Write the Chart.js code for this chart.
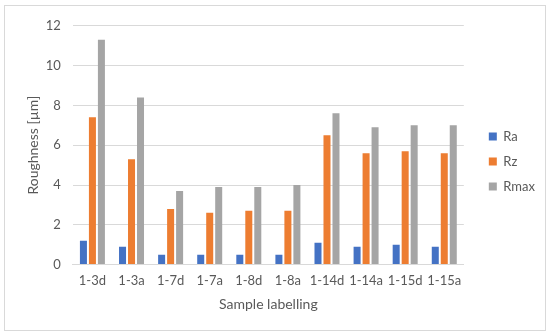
<!DOCTYPE html>
<html>
<head>
<meta charset="utf-8">
<script src="https://cdn.jsdelivr.net/npm/chart.js@4/dist/chart.umd.min.js"></script>
<style>
    body { margin: 0; background: #fff; }
    #box { position: absolute; left: 4px; top: 5px; width: 540px; height: 324px; border: 1px solid #d9d9d9; }
</style>
</head>
<body>
<div id="box"><canvas id="roughChart"></canvas></div>
<script>
let samples = ['1-3d', '1-3a', '1-7d', '1-7a', '1-8d', '1-8a', '1-14d', '1-14a', '1-15d', '1-15a'];
let ra = [1.2, 0.9, 0.5, 0.5, 0.5, 0.5, 1.1, 0.9, 1.0, 0.9];
let rz = [7.4, 5.3, 2.8, 2.6, 2.7, 2.7, 6.5, 5.6, 5.7, 5.6];
let rmax = [11.3, 8.4, 3.7, 3.9, 3.9, 4.0, 7.6, 6.9, 7.0, 7.0];

Chart.defaults.font.family = "Lato, 'Open Sans', sans-serif";
Chart.defaults.color = '#595959';

// push the legend a bit further away from the plot, like the original
const legendShift = {
    id: 'legendShift',
    afterLayout(chart) {
        chart.legend.left += 13;
        chart.legend.right += 13;
    }
};

function makeSet(label, data, color) {
    return {
        label: label,
        data: data,
        backgroundColor: color,
        borderWidth: 0,
        barPercentage: 0.78,
        categoryPercentage: 0.69
    };
}

let ctx = document.getElementById('roughChart').getContext('2d');
let chart = new Chart(ctx, {
    type: 'bar',
    data: {
        labels: samples,
        datasets: [
            makeSet('Ra', ra, '#4472c4'),
            makeSet('Rz', rz, '#ed7d31'),
            makeSet('Rmax', rmax, '#a5a5a5')
        ]
    },
    options: {
        responsive: true,
        maintainAspectRatio: false,
        animation: false,
        layout: { padding: { top: 4, right: 13, bottom: 17, left: 20 } },
        plugins: {
            legend: {
                position: 'right',
                labels: {
                    boxWidth: 8,
                    boxHeight: 8,
                    padding: 12,
                    font: { size: 13 }
                }
            },
            tooltip: { enabled: false }
        },
        scales: {
            x: {
                grid: { display: false, drawTicks: false },
                border: { color: '#d9d9d9' },
                ticks: { font: { size: 13 }, padding: 8, maxRotation: 0, minRotation: 0, autoSkip: false },
                title: { display: true, text: 'Sample labelling', font: { size: 14 }, padding: { top: 0, bottom: 0 } }
            },
            y: {
                min: 0,
                max: 12,
                afterFit: function (scale) { scale.width -= 8; },
                ticks: { stepSize: 2, font: { size: 13 }, padding: 12 },
                grid: { color: '#d9d9d9', drawTicks: false },
                border: { display: false },
                title: { display: true, text: 'Roughness [µm]', font: { size: 14 }, padding: { top: 0, bottom: 0 } }
            }
        }
    },
    plugins: [legendShift]
});
</script>
</body>
</html>
